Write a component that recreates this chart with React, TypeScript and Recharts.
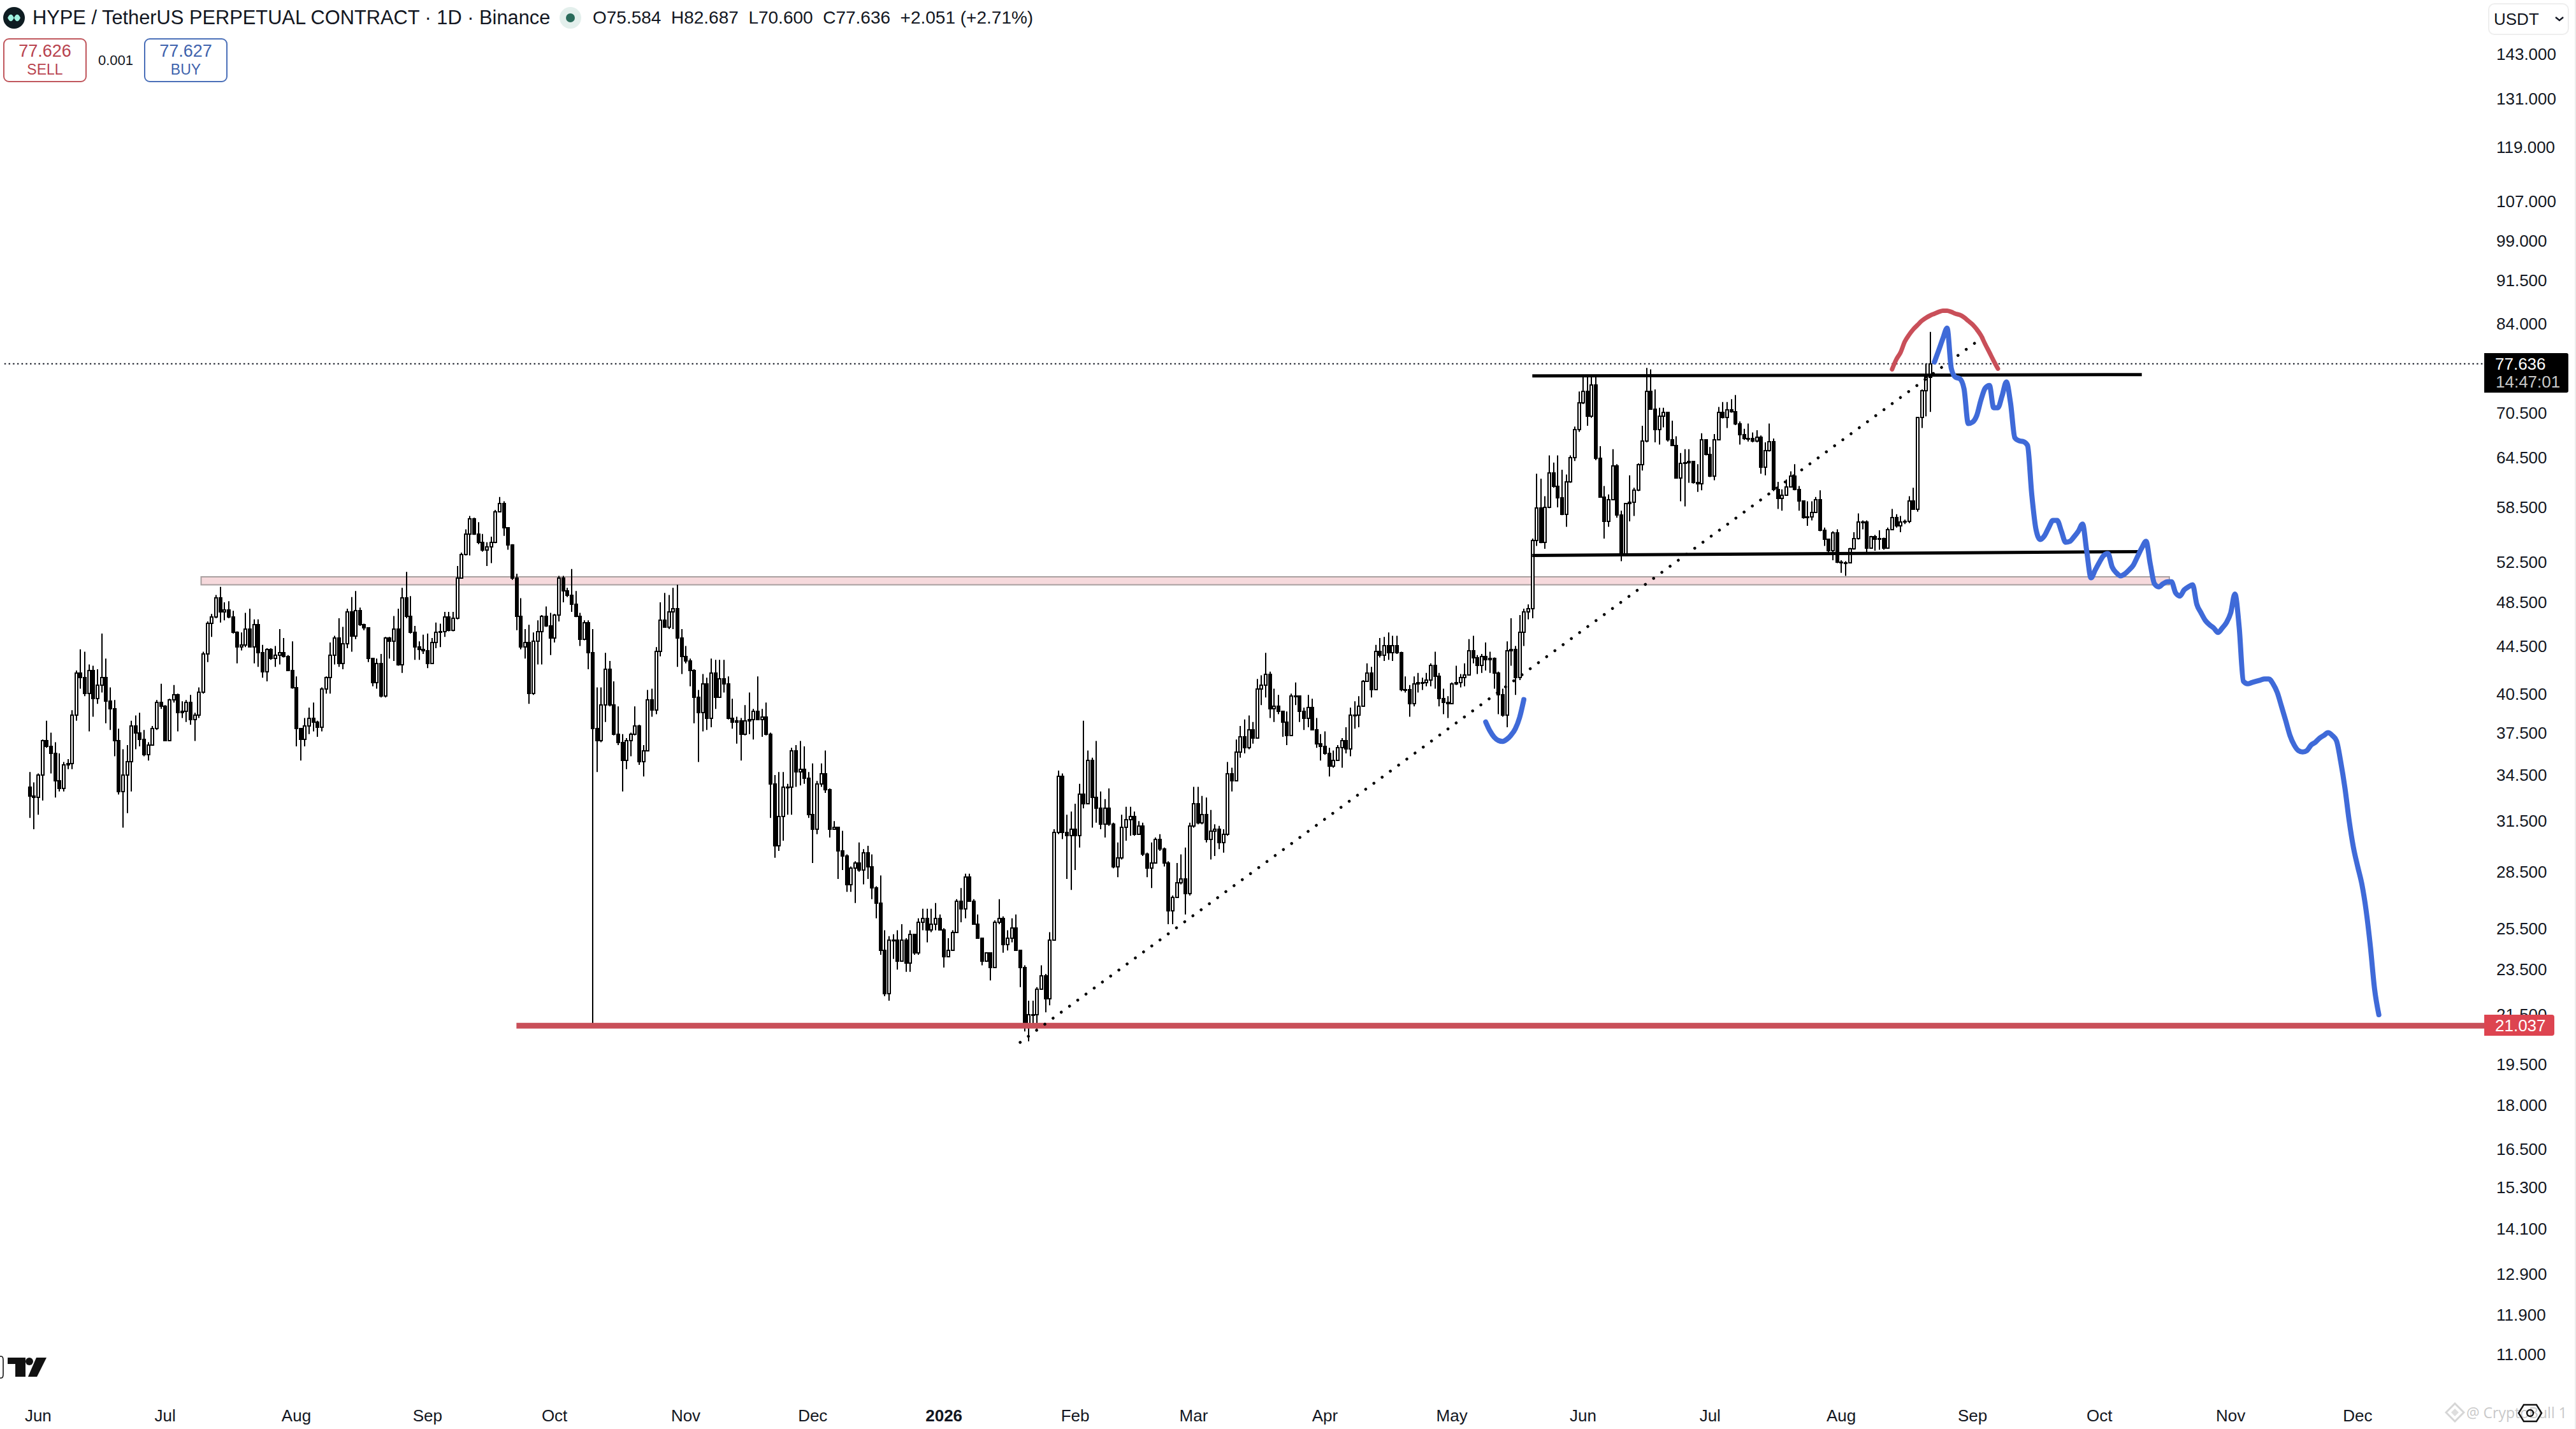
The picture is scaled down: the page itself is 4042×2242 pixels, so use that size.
import { ComposedChart, Bar, Line, XAxis, YAxis, ReferenceArea, ReferenceLine } from "recharts";

const monthNames = ["2026", "Feb", "Mar", "Apr", "May", "Jun", "Jul", "Aug", "Sep", "Oct", "Nov", "Dec"];

const priceTicks = [
  143, 131, 119, 107, 99, 91.5, 84, 70.5, 64.5, 58.5, 52.5, 48.5, 44.5, 40.5, 37.5, 34.5, 31.5, 28.5, 25.5, 23.5,
  21.5, 19.5, 18, 16.5, 15.3, 14.1, 12.9, 11.9, 11,
];

// daily candles from 2025-05-30, each open is the previous close
const firstOpen = 33.7;
const closes = [
  33.1, 33.0, 34.5, 36.9, 36.5, 36.0, 34.1, 33.6, 35.2, 35.3,
  38.8, 42.2, 41.8, 40.5, 42.4, 40.1, 41.2, 41.8, 39.9, 39.3,
  36.9, 33.4, 34.5, 35.4, 38.0, 37.5, 37.0, 35.9, 36.6, 37.8,
  39.8, 39.5, 36.9, 40.0, 40.4, 39.0, 39.1, 39.8, 38.5, 38.8,
  40.6, 43.8, 46.5, 47.1, 48.9, 47.6, 47.8, 47.1, 45.7, 44.4,
  44.6, 46.0, 44.4, 46.4, 43.9, 42.3, 44.2, 43.4, 43.7, 43.9,
  43.6, 42.4, 41.0, 37.8, 37.0, 38.0, 38.6, 38.3, 37.9, 40.9,
  41.8, 43.7, 45.2, 43.0, 44.7, 47.6, 45.4, 47.7, 46.4, 46.1,
  43.4, 41.4, 43.0, 40.3, 45.2, 44.9, 46.0, 42.9, 48.9, 47.2,
  45.7, 44.4, 44.2, 44.1, 43.0, 44.8, 45.7, 45.8, 47.1, 45.9,
  47.0, 50.9, 53.3, 55.5, 57.2, 55.5, 54.6, 53.8, 54.1, 54.6,
  58.0, 58.9, 56.2, 54.3, 50.9, 47.2, 44.4, 44.8, 40.5, 44.9,
  45.8, 47.2, 46.3, 45.2, 47.3, 50.9, 49.6, 49.2, 48.3, 47.2,
  45.1, 46.6, 43.9, 37.8, 36.9, 39.6, 42.5, 39.6, 37.4, 36.8,
  35.5, 36.9, 37.4, 38.0, 35.4, 36.2, 40.0, 39.2, 44.0, 46.8,
  46.2, 47.6, 47.9, 45.2, 43.6, 43.2, 42.4, 40.2, 39.0, 41.3,
  38.6, 42.2, 40.2, 41.7, 41.3, 38.6, 38.3, 38.4, 37.4, 38.4,
  38.5, 39.1, 38.5, 38.7, 37.4, 33.9, 30.0, 31.8, 33.7, 33.7,
  36.2, 34.7, 34.9, 34.3, 31.9, 31.0, 33.9, 34.6, 33.5, 31.0,
  31.1, 29.7, 29.4, 27.8, 28.7, 29.0, 28.6, 29.6, 28.8, 27.6,
  26.8, 24.4, 22.4, 24.9, 24.9, 23.9, 24.9, 23.8, 25.2, 24.3,
  25.8, 26.0, 25.4, 25.7, 26.0, 25.4, 24.1, 24.4, 25.3, 26.9,
  26.5, 28.2, 26.9, 25.7, 25.0, 23.9, 24.3, 23.6, 25.8, 26.0,
  24.7, 25.0, 25.5, 24.4, 23.6, 21.0, 21.5, 21.5, 22.6, 23.2,
  22.2, 24.9, 30.8, 34.4, 30.8, 30.6, 31.0, 30.6, 33.2, 32.6,
  35.5, 33.0, 32.3, 31.3, 32.3, 31.3, 28.8, 29.3, 31.1, 31.6,
  31.8, 30.7, 31.2, 29.5, 28.7, 29.0, 30.4, 29.8, 29.0, 26.4,
  27.1, 27.9, 28.1, 27.3, 31.2, 32.6, 31.4, 31.9, 30.4, 30.9,
  31.0, 30.2, 30.7, 34.6, 34.1, 36.1, 37.2, 36.4, 37.7, 37.1,
  40.9, 41.2, 42.1, 39.3, 39.5, 39.1, 38.3, 37.3, 40.3, 40.3,
  39.1, 38.6, 39.4, 37.7, 36.7, 36.5, 36.0, 35.1, 35.5, 36.4,
  36.9, 36.3, 38.8, 38.8, 39.5, 41.5, 42.2, 40.8, 44.0, 43.7,
  44.5, 43.9, 44.5, 43.9, 40.8, 40.8, 39.7, 41.3, 41.4, 41.4,
  41.6, 42.8, 41.9, 40.1, 39.8, 39.7, 41.3, 41.4, 41.8, 42.0,
  44.1, 43.5, 42.8, 43.6, 43.3, 43.4, 42.2, 40.4, 38.8, 44.1,
  44.2, 41.8, 45.7, 47.6, 47.9, 54.8, 58.4, 54.6, 58.5, 62.6,
  61.0, 59.6, 57.7, 61.5, 64.5, 68.2, 71.9, 73.5, 70.0, 74.5,
  64.4, 59.7, 56.9, 59.4, 63.5, 57.6, 53.2, 58.9, 59.1, 60.5,
  63.6, 66.7, 73.5, 71.0, 68.2, 70.0, 70.5, 66.8, 66.1, 62.0,
  63.8, 63.9, 64.0, 61.4, 61.3, 66.8, 64.9, 62.2, 66.8, 70.5,
  69.8, 70.9, 70.6, 69.0, 67.5, 67.0, 67.0, 66.7, 67.2, 63.3,
  65.4, 66.6, 60.6, 59.5, 59.9, 60.9, 62.2, 60.6, 59.2, 57.3,
  57.4, 57.9, 59.4, 55.9, 54.9, 53.7, 55.6, 52.5, 52.4, 52.4,
  53.9, 55.0, 56.8, 56.8, 54.0, 55.2, 54.9, 55.0, 54.0, 56.0,
  57.3, 56.4, 56.8, 56.9, 59.2, 58.3, 69.8, 73.6, 75.584, 77.636,
];
const highs = [
  34.7, 34.0, 34.6, 37.0, 38.4, 37.5, 36.8, 36.0, 35.4, 35.6,
  39.2, 42.4, 44.2, 44.0, 42.9, 42.8, 42.5, 45.6, 43.4, 41.0,
  40.0, 37.8, 36.3, 36.6, 38.4, 38.8, 39.0, 37.7, 36.8, 38.0,
  40.0, 41.3, 39.6, 40.1, 41.2, 40.5, 39.9, 40.0, 40.4, 39.0,
  41.0, 44.0, 46.7, 47.4, 49.2, 50.0, 48.5, 48.6, 47.7, 45.8,
  45.7, 47.5, 47.9, 46.9, 46.9, 44.6, 44.3, 44.3, 44.5, 46.0,
  45.2, 43.7, 44.9, 41.9, 37.8, 38.6, 39.4, 39.8, 38.4, 41.0,
  41.9, 44.8, 45.4, 47.0, 46.2, 47.9, 49.0, 49.6, 48.0, 46.5,
  46.0, 43.4, 43.4, 43.8, 45.3, 45.3, 47.2, 47.9, 49.9, 51.5,
  49.1, 46.3, 44.9, 45.5, 45.6, 45.2, 46.6, 46.5, 47.6, 47.6,
  47.6, 52.1, 53.5, 56.0, 57.5, 57.3, 56.8, 55.5, 54.6, 55.2,
  58.2, 59.7, 59.2, 56.2, 54.4, 51.3, 48.9, 46.0, 46.4, 45.7,
  46.8, 47.3, 48.1, 47.5, 47.4, 51.1, 51.1, 49.9, 51.8, 49.6,
  47.5, 46.8, 46.8, 46.0, 41.0, 41.0, 43.9, 43.2, 41.5, 39.5,
  37.4, 37.1, 37.5, 39.5, 38.1, 36.6, 40.8, 40.9, 44.4, 48.5,
  49.4, 49.2, 49.9, 50.2, 46.0, 44.5, 43.4, 42.5, 40.8, 42.1,
  41.8, 43.4, 43.3, 43.3, 43.3, 41.9, 40.1, 38.7, 38.6, 39.6,
  40.6, 39.3, 41.9, 39.3, 39.8, 37.5, 34.5, 34.7, 34.7, 33.9,
  36.4, 36.6, 36.9, 36.5, 34.7, 35.3, 34.1, 35.3, 36.2, 33.6,
  31.5, 31.0, 30.9, 29.5, 28.8, 29.1, 30.2, 29.8, 30.0, 29.5,
  27.7, 28.3, 25.4, 25.1, 25.2, 25.4, 25.7, 25.0, 25.4, 25.2,
  26.0, 26.5, 26.5, 26.5, 26.8, 26.2, 25.5, 25.0, 25.4, 27.0,
  27.6, 28.4, 28.4, 27.0, 26.2, 25.0, 24.3, 24.3, 25.9, 27.0,
  26.1, 25.4, 26.0, 26.2, 24.4, 23.7, 22.1, 22.1, 22.7, 23.7,
  23.3, 25.3, 31.0, 34.8, 34.6, 31.9, 32.1, 32.6, 33.9, 38.4,
  36.2, 35.7, 36.9, 33.4, 32.9, 33.6, 31.4, 30.2, 31.9, 32.4,
  32.4, 32.1, 31.5, 31.4, 29.6, 30.2, 30.5, 30.7, 29.9, 29.1,
  27.2, 29.0, 29.5, 29.9, 31.4, 33.7, 33.7, 33.1, 33.0, 32.2,
  31.3, 31.2, 31.0, 35.4, 35.0, 37.0, 38.0, 38.5, 38.8, 38.3,
  41.7, 42.0, 43.9, 42.3, 40.9, 40.4, 39.1, 39.1, 40.5, 41.4,
  40.3, 39.4, 40.4, 40.1, 38.6, 37.4, 37.6, 36.4, 36.2, 36.6,
  37.1, 37.9, 39.4, 39.9, 40.3, 41.6, 43.0, 42.7, 44.6, 45.2,
  45.3, 45.7, 45.4, 45.4, 44.0, 41.9, 41.2, 41.9, 42.2, 41.8,
  42.2, 43.0, 44.0, 42.2, 40.9, 40.3, 41.4, 42.8, 42.1, 43.0,
  45.1, 45.4, 43.7, 43.8, 44.8, 44.0, 43.5, 42.3, 40.9, 44.9,
  47.0, 44.5, 47.3, 47.9, 48.3, 55.0, 62.5, 61.9, 59.8, 64.8,
  63.9, 64.8, 63.0, 62.4, 64.8, 68.6, 73.5, 75.8, 75.8, 75.8,
  75.8, 66.0, 61.0, 60.0, 65.6, 63.7, 58.1, 59.0, 62.3, 60.8,
  63.8, 68.7, 77.0, 76.8, 73.8, 71.2, 71.2, 70.6, 69.4, 67.3,
  65.1, 65.6, 65.6, 64.1, 63.7, 67.7, 66.9, 65.9, 67.6, 71.3,
  72.0, 72.0, 72.4, 73.0, 69.3, 68.3, 69.0, 67.8, 68.1, 67.4,
  66.5, 69.0, 67.0, 61.5, 60.6, 61.8, 62.8, 63.7, 61.0, 59.3,
  59.2, 59.2, 59.7, 60.5, 56.2, 54.9, 55.8, 56.0, 52.7, 52.6,
  54.0, 55.7, 57.8, 57.0, 57.0, 55.3, 55.4, 55.9, 55.1, 56.2,
  58.3, 57.7, 57.5, 57.1, 59.8, 60.8, 69.9, 73.8, 77.7, 82.687,
];
const lows = [
  31.7, 31.0, 31.9, 32.8, 36.4, 34.6, 33.0, 33.4, 33.4, 34.9,
  34.9, 38.4, 40.9, 40.3, 37.6, 38.7, 39.7, 40.6, 38.2, 37.7,
  35.8, 33.2, 31.1, 32.0, 33.4, 36.3, 36.5, 35.8, 35.5, 36.7,
  37.7, 39.3, 36.9, 36.9, 39.8, 37.6, 38.6, 38.3, 38.1, 36.9,
  38.6, 40.5, 43.1, 45.3, 47.0, 46.6, 46.8, 47.0, 45.6, 43.0,
  44.1, 44.4, 44.4, 43.0, 42.7, 41.8, 41.5, 43.3, 42.7, 42.9,
  43.5, 42.4, 40.9, 36.5, 35.5, 36.5, 37.4, 37.6, 37.2, 37.6,
  40.5, 40.5, 42.9, 42.7, 42.5, 44.3, 44.0, 45.1, 46.3, 45.9,
  43.1, 41.1, 40.9, 40.2, 40.2, 43.4, 43.2, 42.8, 42.2, 47.0,
  45.6, 43.3, 43.3, 43.8, 42.6, 43.0, 44.3, 44.4, 45.3, 45.8,
  45.8, 46.9, 50.9, 53.2, 53.2, 55.4, 54.4, 53.6, 52.1, 52.4,
  54.5, 58.0, 55.3, 53.8, 50.7, 45.9, 44.2, 43.4, 39.7, 40.4,
  42.9, 42.9, 46.2, 43.7, 44.8, 46.7, 48.5, 49.0, 47.6, 47.1,
  44.5, 45.0, 42.5, 21.04, 34.7, 36.8, 38.3, 39.5, 37.3, 36.6,
  33.4, 34.9, 35.8, 37.3, 35.2, 34.4, 36.2, 38.7, 38.9, 43.6,
  46.2, 46.0, 46.0, 42.7, 42.1, 43.0, 41.1, 38.2, 35.4, 37.6,
  37.7, 37.9, 39.3, 40.2, 40.6, 38.5, 37.8, 36.7, 35.5, 37.3,
  37.4, 37.0, 38.5, 37.2, 37.3, 31.7, 29.3, 29.7, 30.3, 31.9,
  31.9, 33.7, 33.8, 33.9, 31.7, 29.0, 30.7, 33.7, 33.3, 30.5,
  31.0, 28.1, 28.6, 27.4, 27.4, 26.8, 28.5, 27.8, 28.1, 27.0,
  26.0, 24.2, 22.3, 22.1, 24.0, 23.5, 24.0, 23.4, 23.4, 24.2,
  24.2, 25.4, 24.8, 25.3, 25.4, 25.4, 23.6, 24.1, 24.4, 25.4,
  25.8, 26.0, 26.9, 25.7, 25.0, 23.7, 23.9, 23.0, 23.6, 25.7,
  24.3, 24.4, 24.8, 24.4, 22.7, 20.8, 20.4, 21.0, 20.9, 22.6,
  21.6, 21.9, 24.9, 30.7, 30.4, 28.1, 27.5, 28.6, 29.9, 32.3,
  32.6, 31.1, 31.4, 31.0, 30.5, 31.2, 28.7, 28.2, 29.2, 30.3,
  30.6, 30.6, 30.7, 29.4, 28.2, 27.6, 29.0, 29.7, 28.8, 25.7,
  25.7, 27.1, 27.8, 26.2, 27.2, 31.1, 31.3, 31.3, 30.2, 29.2,
  29.4, 29.8, 29.6, 30.6, 33.4, 34.1, 35.7, 36.0, 36.3, 36.7,
  37.1, 39.6, 40.2, 38.6, 38.3, 38.9, 37.2, 36.6, 37.3, 39.6,
  38.3, 37.7, 37.9, 37.7, 36.4, 35.5, 35.9, 34.4, 35.0, 35.5,
  35.0, 36.0, 35.8, 37.8, 37.9, 39.5, 41.5, 40.2, 40.8, 43.5,
  43.2, 43.3, 43.2, 43.8, 40.7, 40.6, 38.7, 39.5, 40.6, 40.8,
  41.1, 41.1, 40.9, 39.5, 38.9, 38.6, 39.7, 41.2, 41.0, 41.1,
  42.1, 43.0, 42.1, 42.2, 42.4, 42.2, 40.9, 38.9, 38.7, 37.9,
  42.8, 40.4, 41.6, 44.5, 46.9, 47.0, 54.2, 54.5, 53.9, 58.4,
  60.8, 58.5, 57.6, 56.3, 61.4, 64.1, 67.9, 71.7, 68.7, 69.8,
  64.2, 59.6, 55.0, 56.3, 59.6, 57.3, 52.6, 53.2, 56.9, 57.5,
  60.4, 62.9, 66.5, 70.9, 66.5, 66.2, 68.5, 66.6, 66.0, 61.9,
  59.2, 58.6, 61.4, 61.3, 60.3, 60.5, 64.8, 62.1, 61.7, 66.8,
  69.7, 68.4, 70.5, 68.8, 66.2, 66.8, 66.6, 66.5, 66.5, 62.5,
  62.3, 65.3, 60.4, 58.3, 58.1, 59.9, 60.9, 60.5, 58.1, 57.2,
  56.4, 57.0, 57.9, 55.8, 54.2, 53.4, 52.7, 52.4, 51.4, 51.1,
  52.4, 53.8, 54.9, 56.0, 53.5, 53.9, 53.7, 53.8, 53.8, 54.4,
  55.9, 56.2, 55.7, 56.6, 56.7, 58.2, 58.0, 68.4, 70.0, 70.6,
];

// hand drawn overlays; indices count candles from the first one
const forecastStart = 450;
const forecast = [
  77.9, 79.7, 81.6, 83.3, 76.9, 75.6, 75.4, 73.9, 69.0, 69.2,
  70.1, 72.3, 74.0, 74.4, 71.2, 71.2, 72.9, 74.9, 71.8, 67.1,
  66.7, 66.6, 66.1, 60.0, 56.0, 54.9, 55.3, 56.2, 57.0, 57.0,
  55.8, 54.6, 54.7, 55.2, 55.8, 56.6, 53.6, 50.9, 51.7, 52.5,
  53.2, 53.4, 52.0, 51.4, 51.1, 51.3, 51.7, 52.2, 53.1, 54.0,
  54.7, 52.3, 50.3, 50.0, 50.3, 50.5, 50.5, 49.4, 49.1, 49.7,
  50.0, 50.2, 48.3, 47.5, 46.8, 46.4, 46.1, 45.7, 46.1, 46.6,
  47.5, 49.3, 46.2, 41.5, 41.3, 41.4, 41.5, 41.6, 41.7, 41.7,
  41.3, 40.6, 39.5, 38.4, 37.3, 36.6, 36.2, 36.1, 36.2, 36.6,
  36.8, 37.1, 37.3, 37.5, 37.3, 36.9, 35.4, 33.6, 31.5, 29.9,
  28.8, 27.8, 26.4, 24.6, 22.6, 21.5,
];
const dipStart = 344;
const dip = [38.3, 37.63, 37.17, 36.93, 36.86, 37.02, 37.33, 37.8, 38.64, 40.03];
const arcStart = 440;
const arc = [
  76.8, 78.3, 79.4, 81.1, 82.2, 83.1, 83.8, 84.5, 85.0, 85.4, 85.7, 86.0, 86.2, 86.2,
  86.0, 85.7, 85.5, 85.1, 84.5, 83.9, 83.1, 82.1, 80.7, 79.4, 78.1, 76.9,
];

const lastPrice = 77.636;
const stopLevel = 21.037;
const stopFrom = 115;
const zoneTop = 51.0;
const zoneBottom = 50.2;
const zoneFrom = 41;
const zoneTo = 505;
const upperLevel = [355, 75.8, 499, 76.0];
const lowerLevel = [355, 53.2, 499, 53.6];
const trend = [234, 20.36, 462, 82.1];

const leadDays = 6;
const slotCount = 587;

const dayKeys = Array.from({ length: slotCount }, (_, i) =>
  new Date(Date.UTC(2025, 4, 24 + i)).toISOString().slice(0, 10),
);
const monthTicks = dayKeys.filter((d) => d.endsWith("-01"));

const pick = (start: number, list: number[], i: number) =>
  i >= start && i < start + list.length ? list[i - start] : undefined;
const ends = (seg: number[], i: number) => (i === seg[0] ? seg[1] : i === seg[2] ? seg[3] : undefined);

const stopEnd = slotCount - leadDays - 1;

const rows = dayKeys.map((day, slot) => {
  const i = slot - leadDays;
  const row: Record<string, unknown> = {
    day,
    forecast: pick(forecastStart, forecast, i),
    dip: pick(dipStart, dip, i),
    arc: pick(arcStart, arc, i),
    upper: ends(upperLevel, i),
    lower: ends(lowerLevel, i),
    trend: ends(trend, i),
    stop: i === stopFrom || i === stopEnd ? stopLevel : undefined,
  };
  if (i >= 0 && i < closes.length) {
    const open = i === 0 ? firstOpen : closes[i - 1];
    row.open = open;
    row.close = closes[i];
    row.high = Math.max(highs[i], open, closes[i]);
    row.low = Math.min(lows[i], open, closes[i]);
    row.range = [row.low, row.high];
  }
  return row;
});

const sans = '"Liberation Sans", Arial, sans-serif';
const ink = "#131722";
const blue = "#3f6ad8";
const red = "#c94f59";

// body position comes from the bar's own low..high pixels, so it follows the log scale
function Candle(props: any) {
  const { x, y, width, height, payload } = props;
  if (payload == null || payload.close == null || !Number.isFinite(y)) return null;
  // snap to whole pixels, blurred 1px wicks go grey otherwise
  const cx = Math.round(x + width / 2);
  const span = Math.log(payload.high) - Math.log(payload.low);
  const toY = (p: number) => y + (height * (Math.log(payload.high) - Math.log(p))) / span;
  const up = payload.close >= payload.open;
  const top = Math.round(toY(Math.max(payload.open, payload.close)));
  const bottom = Math.round(toY(Math.min(payload.open, payload.close)));
  return (
    <g>
      <line x1={cx} x2={cx} y1={y} y2={y + height} stroke="#000" strokeWidth={2} />
      <rect
        x={cx - 2}
        y={top}
        width={4}
        height={Math.max(bottom - top, 1)}
        fill={up ? "#fff" : "#000"}
        stroke="#000"
        strokeWidth={2}
      />
    </g>
  );
}

const box = (left: number, top: number, width: number, height: number, extra = {}) => ({
  position: "absolute" as const,
  left,
  top,
  width,
  height,
  boxSizing: "border-box" as const,
  ...extra,
});

const label = (left: number, top: number, size: number, color: string, extra = {}) => ({
  position: "absolute" as const,
  left,
  top,
  fontSize: size,
  lineHeight: "1",
  color,
  whiteSpace: "nowrap" as const,
  fontFamily: sans,
  ...extra,
});

export default function App() {
  return (
    <div style={{ position: "absolute", left: 0, top: 0, width: 4042, height: 2242, overflow: "hidden", background: "#fff" }}>
      <ComposedChart
        width={4042}
        height={2242}
        data={rows}
        margin={{ top: 0, right: 0, left: 3.4, bottom: 0 }}
        barSize={5}
      >
        <XAxis
          dataKey="day"
          height={62}
          ticks={monthTicks}
          interval={0}
          axisLine={false}
          tickLine={false}
          tick={({ x, y, payload }: any) => {
            const month = Number(String(payload.value).slice(5, 7)) - 1;
            return (
              <text
                x={x}
                y={Number(y) + 44}
                textAnchor="middle"
                fontFamily={sans}
                fontSize={26}
                fontWeight={month === 0 ? 700 : 400}
                fill={ink}
              >
                {monthNames[month]}
              </text>
            );
          }}
          tickMargin={0}
        />
        <YAxis
          orientation="right"
          width={140}
          scale="log"
          domain={[10.265, 159.13]}
          allowDataOverflow
          ticks={priceTicks}
          interval={0}
          axisLine={false}
          tickLine={false}
          tickSize={0}
          tickMargin={15}
          tickFormatter={(v: number) => v.toFixed(3)}
          tick={{ fontSize: 26, fill: ink, fontFamily: sans }}
        />
        <ReferenceArea
          x1={dayKeys[zoneFrom + leadDays]}
          x2={dayKeys[zoneTo + leadDays]}
          y1={zoneBottom}
          y2={zoneTop}
          fill="#f6d9dc"
          fillOpacity={1}
          stroke="#a89f9f"
          strokeWidth={2}
        />
        <ReferenceLine y={lastPrice} stroke={ink} strokeWidth={2} strokeDasharray="2.5 4.2" />
        <Bar dataKey="range" shape={Candle} isAnimationActive={false} />
        <Line dataKey="stop" connectNulls stroke={red} strokeWidth={9} dot={false} activeDot={false} isAnimationActive={false} />
        <Line dataKey="upper" connectNulls stroke="#000" strokeWidth={5} dot={false} activeDot={false} isAnimationActive={false} />
        <Line dataKey="lower" connectNulls stroke="#000" strokeWidth={5} dot={false} activeDot={false} isAnimationActive={false} />
        <Line
          dataKey="trend"
          connectNulls
          stroke="#000"
          strokeWidth={4.5}
          strokeLinecap="round"
          strokeDasharray="0.1 15.9"
          dot={false}
          activeDot={false}
          isAnimationActive={false}
        />
        <Line dataKey="arc" type="monotone" stroke={red} strokeWidth={7} strokeLinecap="round" dot={false} activeDot={false} isAnimationActive={false} />
        <Line dataKey="dip" type="monotone" stroke={blue} strokeWidth={8} strokeLinecap="round" dot={false} activeDot={false} isAnimationActive={false} />
        <Line dataKey="forecast" type="monotone" stroke={blue} strokeWidth={8} strokeLinecap="round" strokeLinejoin="round" dot={false} activeDot={false} isAnimationActive={false} />
      </ComposedChart>

      {/* header */}
      <svg style={{ position: "absolute", left: 4, top: 10 }} width={38} height={38}>
        <circle cx={18} cy={18} r={17} fill="#0e1c22" />
        <path d="M8 18c3-7 7-7 10 0s7 7 10 0c-3-7-7-7-10 0s-7 7-10 0z" fill="#9ff2e0" />
      </svg>
      <div style={label(51, 13, 30.8, ink)}>HYPE / TetherUS PERPETUAL CONTRACT · 1D · Binance</div>
      <svg style={{ position: "absolute", left: 876, top: 9 }} width={38} height={38}>
        <circle cx={19} cy={19} r={17} fill="#e3efec" />
        <circle cx={19} cy={19} r={7} fill="#2a6b5b" />
      </svg>
      <div style={label(930, 14, 28, ink)}>O75.584&nbsp; H82.687&nbsp; L70.600&nbsp; C77.636&nbsp; +2.051 (+2.71%)</div>

      <div style={box(5, 60, 131, 69, { border: "2px solid #c0565c", borderRadius: 9 })} />
      <div style={label(5, 67, 27, "#b8434e", { width: 131, textAlign: "center" })}>77.626</div>
      <div style={label(5, 98, 23, "#b8434e", { width: 131, textAlign: "center" })}>SELL</div>
      <div style={label(136, 84, 22, ink, { width: 91, textAlign: "center" })}>0.001</div>
      <div style={box(226, 60, 131, 69, { border: "2px solid #4a6fb8", borderRadius: 9 })} />
      <div style={label(226, 67, 27, "#3f63ad", { width: 131, textAlign: "center" })}>77.627</div>
      <div style={label(226, 98, 23, "#3f63ad", { width: 131, textAlign: "center" })}>BUY</div>

      {/* price scale extras */}
      <div style={box(3904, 5, 127, 50, { border: "2px solid #eeeeee", borderRadius: 10, background: "#fff" })} />
      <div style={label(3913, 17, 26, ink)}>USDT</div>
      <svg style={{ position: "absolute", left: 4008, top: 25 }} width={16} height={10}>
        <path d="M2 2l6 5 6-5" fill="none" stroke={ink} strokeWidth={2.4} />
      </svg>
      <div style={box(3898, 554, 132, 62, { background: "#000", borderRadius: "0 3px 3px 0" })} />
      <div style={label(3915, 558, 26, "#fff")}>77.636</div>
      <div style={label(3916, 586, 26, "#c9c9c9")}>14:47:01</div>
      <div style={box(3898, 1592, 110, 33, { background: "#dd4450", borderRadius: "0 4px 4px 0" })} />
      <div style={label(3915, 1596, 26, "#fff")}>21.037</div>
      <div style={box(4040, 0, 2, 2242, { background: "#ececec" })} />

      {/* logo and watermark */}
      <svg style={{ position: "absolute", left: 0, top: 2124 }} width={80} height={42}>
        <path d="M0 4h2c2 0 3 3 3 6v22c0 3-1 6-3 6H0" fill="none" stroke="#111" strokeWidth={1.6} />
        <path d="M12 6h28v30H24V16H12z" fill="#111" />
        <circle cx={46} cy={12} r={6} fill="#111" />
        <path d="M57 6h16L58 36H44z" fill="#111" />
      </svg>
      <svg style={{ position: "absolute", left: 3836, top: 2200 }} width={32} height={32}>
        <path d="M16 2l14 14-14 14L2 16z" fill="none" stroke="#d6d6d6" strokeWidth={3} />
        <path d="M16 10l6 6-6 6-6-6z" fill="#dedede" />
      </svg>
      <div style={label(3870, 2205, 23, "#c9c9c9", { fontFamily: '"Open Sans", sans-serif' })}>@ CryptoBull 1</div>
      <svg style={{ position: "absolute", left: 3950, top: 2202 }} width={40} height={30}>
        <path d="M10 2h20l8 13-8 13H10L2 15z" fill="none" stroke="#111" strokeWidth={2.4} />
        <circle cx={20} cy={15} r={5} fill="none" stroke="#111" strokeWidth={2.4} />
      </svg>
    </div>
  );
}
